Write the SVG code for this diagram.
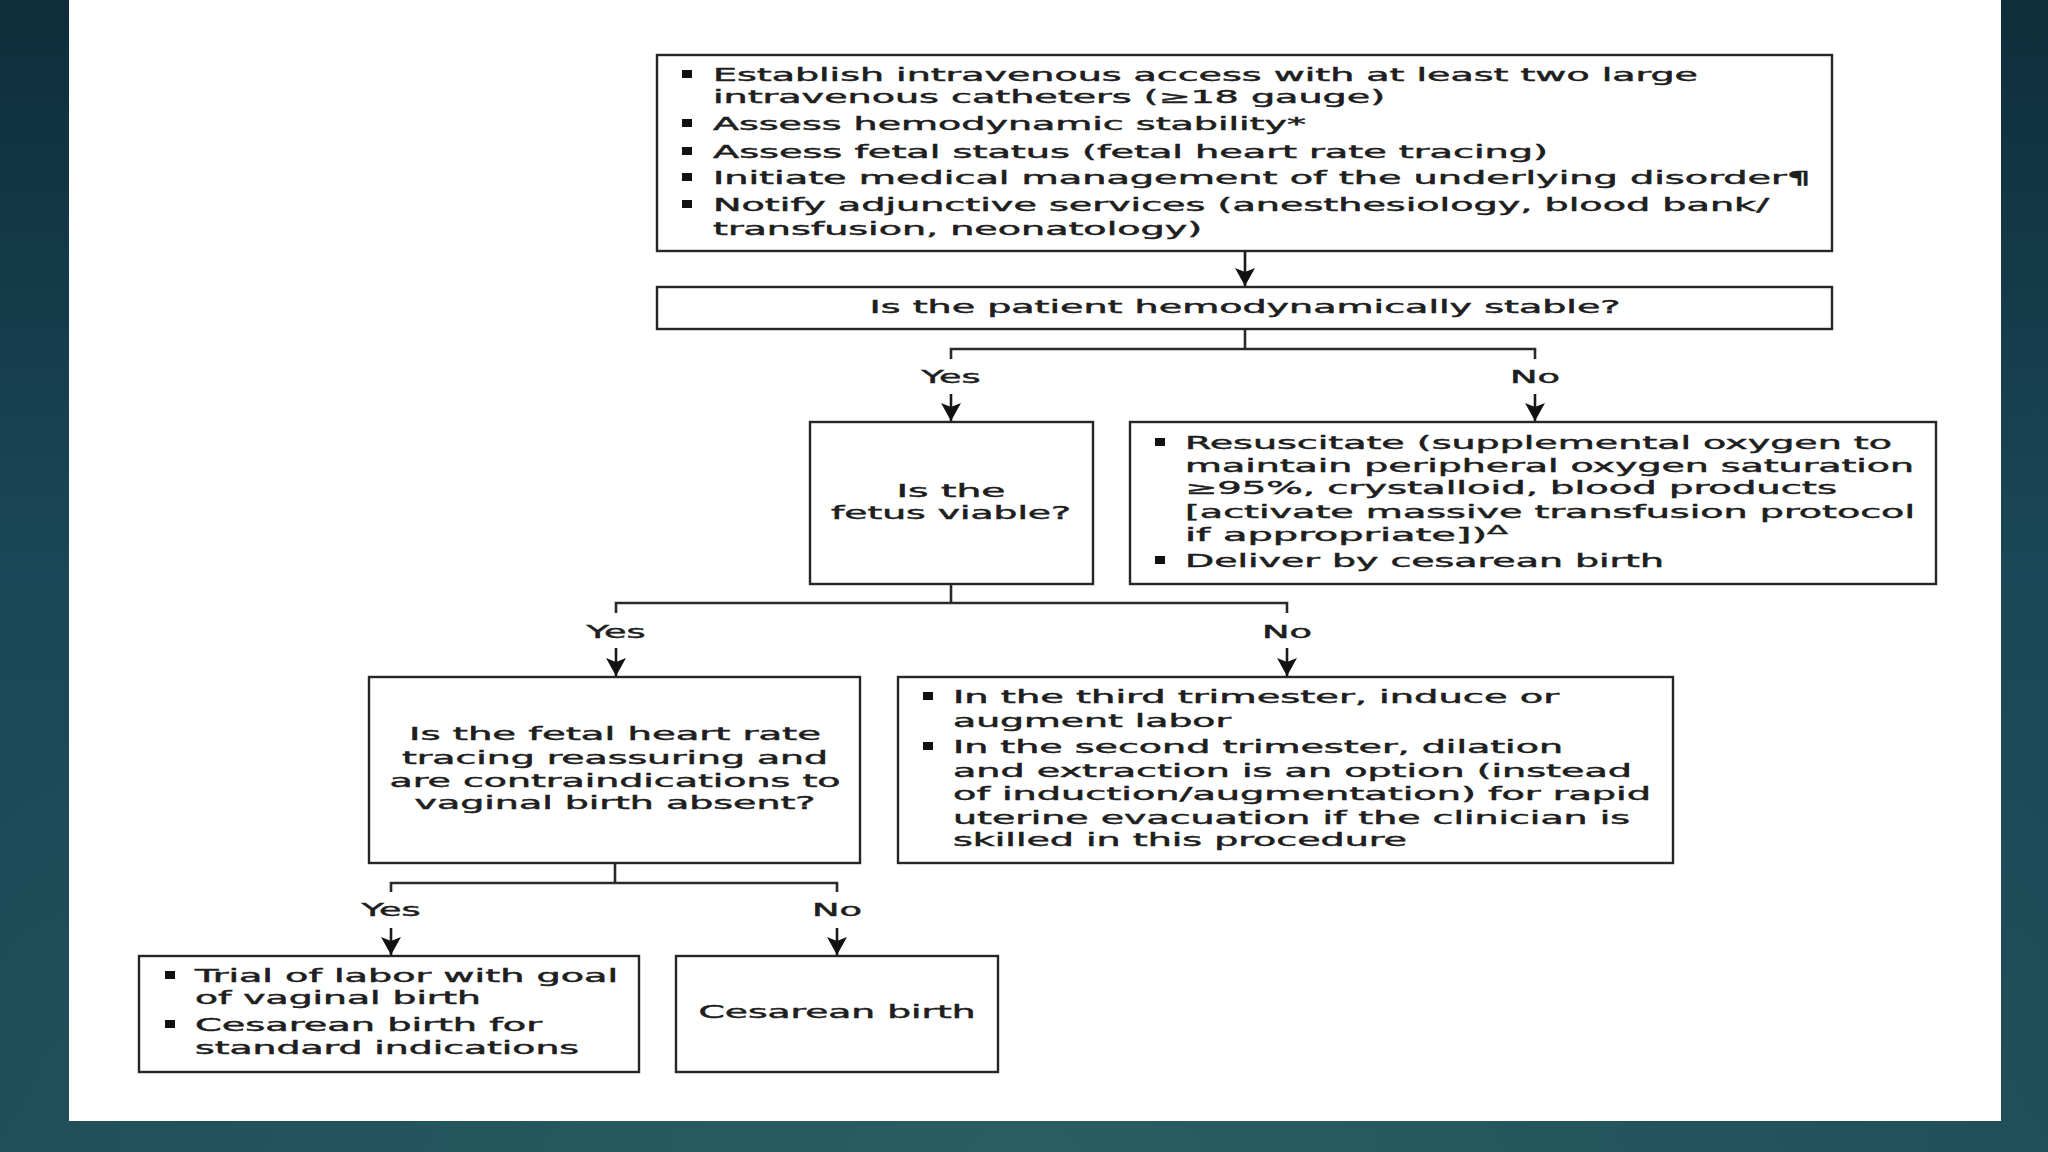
<svg xmlns="http://www.w3.org/2000/svg" width="2048" height="1152" viewBox="0 0 2048 1152">
  <defs>
    <linearGradient id="bg" x1="0" y1="0" x2="0" y2="1">
      <stop offset="0" stop-color="#0f2d3b"/>
      <stop offset="0.5" stop-color="#1a4858"/>
      <stop offset="1" stop-color="#1e4c58"/>
    </linearGradient>
    <radialGradient id="glow" cx="0.5" cy="1" r="0.6">
      <stop offset="0" stop-color="#2b6064" stop-opacity="0.9"/>
      <stop offset="1" stop-color="#2b6064" stop-opacity="0"/>
    </radialGradient>
    <marker id="arr" markerUnits="userSpaceOnUse" markerWidth="20" markerHeight="22" refX="18" refY="11" orient="auto">
      <path d="M0,1 L18,11 L0,21 L4,11 z" fill="#121212"/>
    </marker>
    <style>
      .t { font-family: "DejaVu Sans", Verdana, sans-serif; font-size: 17px; fill: #1e1e1e; stroke: #1e1e1e; stroke-width: 0.45; }
      .c { text-anchor: middle; }
      .box { fill: #ffffff; stroke: #262626; stroke-width: 2.4; }
      .ln { fill: none; stroke: #2a2a2a; stroke-width: 2.6; }
      .ar { fill: none; stroke: #1a1a1a; stroke-width: 2.6; marker-end: url(#arr); }
      .b { fill: #111111; }
    </style>
  </defs>

  <rect x="0" y="0" width="2048" height="1152" fill="url(#bg)"/>
  <rect x="0" y="0" width="2048" height="1152" fill="url(#glow)"/>
  <rect x="69" y="-10" width="1932" height="1131" fill="#ffffff"/>

  <g id="connectors">
    <line class="ar" x1="1245" y1="252" x2="1245" y2="286"/>
    <polyline class="ln" points="1245,330 1245,349"/>
    <polyline class="ln" points="951,359 951,349 1535,349 1535,359"/>
    <line class="ar" x1="951" y1="394" x2="951" y2="421"/>
    <line class="ar" x1="1535" y1="394" x2="1535" y2="421"/>

    <polyline class="ln" points="951,585 951,603"/>
    <polyline class="ln" points="616,613 616,603 1287,603 1287,613"/>
    <line class="ar" x1="616" y1="648" x2="616" y2="676"/>
    <line class="ar" x1="1287" y1="648" x2="1287" y2="676"/>

    <polyline class="ln" points="615,864 615,883"/>
    <polyline class="ln" points="391,892 391,883 837,883 837,892"/>
    <line class="ar" x1="391" y1="928" x2="391" y2="955"/>
    <line class="ar" x1="837" y1="928" x2="837" y2="955"/>

    <text class="t c" x="951" y="383" textLength="59" lengthAdjust="spacingAndGlyphs">Yes</text>
    <text class="t c" x="1535" y="383" textLength="50" lengthAdjust="spacingAndGlyphs">No</text>
    <text class="t c" x="616" y="638" textLength="59" lengthAdjust="spacingAndGlyphs">Yes</text>
    <text class="t c" x="1287" y="638" textLength="50" lengthAdjust="spacingAndGlyphs">No</text>
    <text class="t c" x="391" y="916" textLength="59" lengthAdjust="spacingAndGlyphs">Yes</text>
    <text class="t c" x="837" y="916" textLength="50" lengthAdjust="spacingAndGlyphs">No</text>
  </g>

  <g id="initial-steps">
    <rect class="box" x="657" y="55" width="1175" height="196"/>
    <rect class="b" x="682" y="70" width="10" height="8"/>
    <rect class="b" x="682" y="119" width="10" height="8"/>
    <rect class="b" x="682" y="147" width="10" height="8"/>
    <rect class="b" x="682" y="173" width="10" height="8"/>
    <rect class="b" x="682" y="200" width="10" height="8"/>
    <text class="t" x="713" y="81" textLength="985" lengthAdjust="spacingAndGlyphs">Establish intravenous access with at least two large</text>
    <text class="t" x="713" y="103" textLength="672" lengthAdjust="spacingAndGlyphs">intravenous catheters (≥18 gauge)</text>
    <text class="t" x="713" y="130" textLength="593" lengthAdjust="spacingAndGlyphs">Assess hemodynamic stability*</text>
    <text class="t" x="713" y="158" textLength="835" lengthAdjust="spacingAndGlyphs">Assess fetal status (fetal heart rate tracing)</text>
    <text class="t" x="713" y="184" textLength="1098" lengthAdjust="spacingAndGlyphs">Initiate medical management of the underlying disorder¶</text>
    <text class="t" x="713" y="211" textLength="1056" lengthAdjust="spacingAndGlyphs">Notify adjunctive services (anesthesiology, blood bank/</text>
    <text class="t" x="713" y="235" textLength="489" lengthAdjust="spacingAndGlyphs">transfusion, neonatology)</text>
  </g>

  <g id="q-stable">
    <rect class="box" x="657" y="287" width="1175" height="42"/>
    <text class="t c" x="1245" y="313" textLength="751" lengthAdjust="spacingAndGlyphs">Is the patient hemodynamically stable?</text>
  </g>

  <g id="q-viable">
    <rect class="box" x="810" y="422" width="283" height="162"/>
    <text class="t c" x="951" y="497" textLength="109" lengthAdjust="spacingAndGlyphs">Is the</text>
    <text class="t c" x="951" y="519" textLength="240" lengthAdjust="spacingAndGlyphs">fetus viable?</text>
  </g>

  <g id="resuscitate">
    <rect class="box" x="1130" y="422" width="806" height="162"/>
    <rect class="b" x="1155" y="438" width="10" height="8"/>
    <rect class="b" x="1155" y="556" width="10" height="8"/>
    <text class="t" x="1185" y="449" textLength="707" lengthAdjust="spacingAndGlyphs">Resuscitate (supplemental oxygen to</text>
    <text class="t" x="1185" y="472" textLength="729" lengthAdjust="spacingAndGlyphs">maintain peripheral oxygen saturation</text>
    <text class="t" x="1185" y="494" textLength="652" lengthAdjust="spacingAndGlyphs">≥95%, crystalloid, blood products</text>
    <text class="t" x="1185" y="518" textLength="730" lengthAdjust="spacingAndGlyphs">[activate massive transfusion protocol</text>
    <text class="t" x="1185" y="541" textLength="323" lengthAdjust="spacingAndGlyphs">if appropriate])<tspan dy="-7" font-size="13">Δ</tspan></text>
    <text class="t" x="1185" y="567" textLength="479" lengthAdjust="spacingAndGlyphs">Deliver by cesarean birth</text>
  </g>

  <g id="q-fhr">
    <rect class="box" x="369" y="677" width="491" height="186"/>
    <text class="t c" x="615" y="740" textLength="412" lengthAdjust="spacingAndGlyphs">Is the fetal heart rate</text>
    <text class="t c" x="615" y="764" textLength="426" lengthAdjust="spacingAndGlyphs">tracing reassuring and</text>
    <text class="t c" x="615" y="787" textLength="451" lengthAdjust="spacingAndGlyphs">are contraindications to</text>
    <text class="t c" x="615" y="809" textLength="401" lengthAdjust="spacingAndGlyphs">vaginal birth absent?</text>
  </g>

  <g id="nonviable">
    <rect class="box" x="898" y="677" width="775" height="186"/>
    <rect class="b" x="923" y="692" width="10" height="8"/>
    <rect class="b" x="923" y="742" width="10" height="8"/>
    <text class="t" x="953" y="703" textLength="606" lengthAdjust="spacingAndGlyphs">In the third trimester, induce or</text>
    <text class="t" x="953" y="727" textLength="278" lengthAdjust="spacingAndGlyphs">augment labor</text>
    <text class="t" x="953" y="753" textLength="610" lengthAdjust="spacingAndGlyphs">In the second trimester, dilation</text>
    <text class="t" x="953" y="777" textLength="679" lengthAdjust="spacingAndGlyphs">and extraction is an option (instead</text>
    <text class="t" x="953" y="800" textLength="698" lengthAdjust="spacingAndGlyphs">of induction/augmentation) for rapid</text>
    <text class="t" x="953" y="824" textLength="677" lengthAdjust="spacingAndGlyphs">uterine evacuation if the clinician is</text>
    <text class="t" x="953" y="846" textLength="454" lengthAdjust="spacingAndGlyphs">skilled in this procedure</text>
  </g>

  <g id="trial-of-labor">
    <rect class="box" x="139" y="956" width="500" height="116"/>
    <rect class="b" x="165" y="971" width="10" height="8"/>
    <rect class="b" x="165" y="1020" width="10" height="8"/>
    <text class="t" x="195" y="982" textLength="423" lengthAdjust="spacingAndGlyphs">Trial of labor with goal</text>
    <text class="t" x="195" y="1004" textLength="286" lengthAdjust="spacingAndGlyphs">of vaginal birth</text>
    <text class="t" x="195" y="1031" textLength="347" lengthAdjust="spacingAndGlyphs">Cesarean birth for</text>
    <text class="t" x="195" y="1054" textLength="384" lengthAdjust="spacingAndGlyphs">standard indications</text>
  </g>

  <g id="cesarean">
    <rect class="box" x="676" y="956" width="322" height="116"/>
    <text class="t c" x="837" y="1018" textLength="277" lengthAdjust="spacingAndGlyphs">Cesarean birth</text>
  </g>
</svg>
